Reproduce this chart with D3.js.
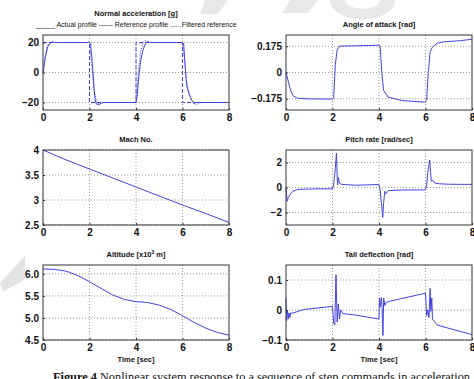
<!DOCTYPE html>
<meta charset="utf-8">
<style>
body { margin: 0; background: #fff; }
.tick text { font-family: "Liberation Sans", Arial, sans-serif; font-weight: bold; font-size: 10px; fill: #111; }
.ttl { font-family: "Liberation Sans", Arial, sans-serif; font-weight: bold; font-size: 7.5px; fill: #111; }
.grid line { stroke: #999; stroke-dasharray: 1,2; }
.frame { fill: none; stroke: #333; stroke-width: 1; }
.line { fill: none; stroke: #4343e0; stroke-width: 1; }
</style>
<body>
<script src="https://d3js.org/d3.v7.min.js"></script>
<script>

// ---- data ----
var xTicks = [0, 2, 4, 6, 8];

// normal acceleration [g]
var accActualT = [0, 0.1, 0.2, 0.3, 0.4, 0.5, 2.0, 2.05, 2.1, 2.15, 2.2, 2.25, 2.3, 2.4, 2.5, 2.6, 4.0, 4.05, 4.1, 4.2, 4.3, 4.4, 4.5, 4.6, 6.0, 6.05, 6.1, 6.15, 6.2, 6.3, 6.4, 6.5, 6.6, 8];
var accActual  = [0, 10, 17, 19.5, 20.5, 20, 20, 19, 10, 0, -12, -19, -21, -21.5, -20.5, -20, -20, -16, -6, 8, 15, 19, 20.5, 20, 20, 19, 8, -4, -10, -15, -18.5, -20.5, -20, -20];
var accRefT = [0, 2, 2, 4, 4, 6, 6, 8];
var accRef  = [20, 20, -20, -20, 20, 20, -20, -20];
var accFiltT = [0, 0.1, 0.2, 0.3, 0.4, 2.0, 2.1, 2.2, 2.3, 2.4, 2.5, 4.0, 4.1, 4.2, 4.3, 4.4, 4.6, 6.0, 6.1, 6.2, 6.3, 6.4, 6.5, 6.6, 6.8, 8];
var accFilt  = [0, 12, 18, 20, 20, 20, 5, -12, -19, -21, -20, -20, 0, 14, 20, 21.5, 20, 20, 6, -8, -15, -19, -21, -21.5, -20, -20];

// angle of attack [rad]
var aoaT = [0, 0.1, 0.2, 0.3, 0.5, 1, 2, 2.05, 2.12, 2.2, 2.3, 3, 4, 4.05, 4.12, 4.2, 4.4, 5, 6, 6.05, 6.12, 6.2, 6.3, 6.5, 6.8, 7.5, 8];
var aoa  = [0, -0.06, -0.12, -0.155, -0.172, -0.176, -0.177, -0.17, 0.05, 0.15, 0.176, 0.178, 0.182, 0.175, 0, -0.12, -0.165, -0.187, -0.198, -0.18, 0, 0.14, 0.17, 0.195, 0.205, 0.212, 0.222];

// Mach number
var machT = [0, 1, 2, 3, 4, 5, 6, 7, 8];
var mach  = [4.0, 3.8, 3.62, 3.44, 3.26, 3.08, 2.9, 2.73, 2.55];

// pitch rate [rad/sec]
var qT = [0, 0.05, 0.1, 0.2, 0.3, 0.5, 1, 2, 2.05, 2.12, 2.17, 2.2, 2.22, 2.25, 2.3, 2.4, 3, 4, 4.05, 4.1, 4.16, 4.2, 4.25, 4.3, 4.4, 5, 6, 6.05, 6.1, 6.18, 6.22, 6.25, 6.3, 6.4, 6.6, 7, 8];
var q  = [0, -1.1, -0.8, -0.5, -0.3, -0.15, -0.12, -0.1, 0.2, 1.5, 2.75, 1.0, 0.2, 0.8, 0.35, 0.25, 0.18, 0.24, -0.2, -1.2, -2.4, -1.2, -0.3, -0.5, -0.25, -0.2, -0.19, 0.2, 1.2, 2.2, 1.2, 0.5, 0.6, 0.35, 0.3, 0.26, 0.25];

// altitude [x10^3 m]
var altT = [0, 0.5, 1, 1.5, 2, 2.5, 3, 3.5, 4, 4.5, 5, 5.5, 6, 6.5, 7, 7.5, 8];
var alt  = [6.11, 6.1, 6.06, 5.96, 5.82, 5.67, 5.52, 5.42, 5.37, 5.35, 5.29, 5.19, 5.05, 4.9, 4.77, 4.67, 4.61];

// tail deflection [rad]
var tailT = [0, 0.03, 0.06, 0.1, 0.13, 0.17, 0.2, 0.3, 0.5, 0.8, 2, 2.05, 2.1, 2.15, 2.2, 2.25, 2.3, 2.35, 2.45, 3, 4, 4.02, 4.06, 4.1, 4.13, 4.17, 4.2, 4.25, 4.3, 4.5, 6, 6.05, 6.1, 6.15, 6.2, 6.23, 6.27, 6.3, 6.5, 7, 8];
var tail  = [0.04, -0.035, 0.0, -0.03, -0.01, -0.025, -0.01, -0.01, -0.005, 0.002, 0.012, -0.045, -0.05, 0.117, -0.04, 0.02, -0.03, 0.0, -0.012, -0.017, -0.03, 0.04, 0.01, 0.042, 0.012, -0.085, 0.04, 0.015, 0.025, 0.03, 0.056, -0.02, 0.0, -0.025, 0.072, -0.005, 0.04, -0.03, -0.05, -0.061, -0.082];

// ---- layout ----
var svg = d3.select("body").append("svg").attr("width", 474).attr("height", 379);

// faint watermark
svg.append("path").attr("d", "M205,0 L228,0 L218,14 L200,14 Z").attr("fill", "#e8e8e8");
svg.append("path").attr("d", "M290,0 L318,0 L308,13 L282,13 Z").attr("fill", "#e8e8e8");
svg.append("path").attr("d", "M330,0 A30,18 0 0 0 395,0 L380,0 A16,8 0 0 1 345,0 Z").attr("fill", "#e8e8e8");
svg.append("path").attr("d", "M25,256 L0,283 L3,292 L25,279 Z").attr("fill", "#e3e3e3");

var colL = 43, colR = 286, pw = 186, ph = 75;
var rows = [35, 150, 265];

function panel(x0, y0, ydom, yticks, yfmt, title, series) {
  var x = d3.scaleLinear().domain([0, 8]).range([0, pw]);
  var y = d3.scaleLinear().domain(ydom).range([ph, 0]);
  var g = svg.append("g").attr("transform", "translate(" + x0 + "," + y0 + ")");

  // dotted grid
  g.append("g").attr("class", "grid")
    .selectAll("line").data(xTicks.slice(1, -1)).enter().append("line")
      .attr("x1", d => x(d)).attr("x2", d => x(d)).attr("y1", 0).attr("y2", ph);
  g.append("g").attr("class", "grid")
    .selectAll("line").data(yticks).enter().append("line")
      .attr("x1", 0).attr("x2", pw).attr("y1", d => y(d)).attr("y2", d => y(d));

  // series
  series.forEach(function(s) {
    var pts = s.t.map((t, i) => [t, s.v[i]]);
    g.append("path").datum(pts).attr("class", "line")
      .attr("stroke-dasharray", s.dash || null)
      .attr("d", d3.line().x(d => x(d[0])).y(d => y(d[1])));
  });

  // axes
  var xa = g.append("g").attr("transform", "translate(0," + ph + ")")
    .call(d3.axisBottom(x).tickValues(xTicks).tickSize(-2).tickPadding(5).tickFormat(d3.format("d")));
  var ya = g.append("g")
    .call(d3.axisLeft(y).tickValues(yticks).tickSize(-2).tickPadding(4).tickFormat(yfmt));
  [xa, ya].forEach(a => { a.select(".domain").remove(); a.selectAll(".tick line").attr("stroke", "#333"); });
  xa.selectAll("text").attr("dy", "0.55em");

  g.append("rect").attr("class", "frame").attr("width", pw).attr("height", ph);

  g.append("text").attr("class", "ttl").attr("x", pw / 2).attr("y", -8)
    .attr("text-anchor", "middle").text(title);
  return g;
}

var fmt = d3.format("d");
var g1 = panel(colL, rows[0], [-25, 25], [-20, 0, 20], fmt, "Normal acceleration [g]", [
  { t: accRefT, v: accRef, dash: "4,2" },
  { t: accFiltT, v: accFilt, dash: "1,1.5" },
  { t: accActualT, v: accActual }
]);
g1.select(".ttl").attr("y", -19);
g1.append("text").attr("class", "ttl").attr("x", pw / 2).attr("y", -8).attr("text-anchor", "middle")
  .style("font-weight", "normal").style("font-size", "7px")
  .text("_____ Actual profile ------ Reference profile ......Filtered reference");

panel(colR, rows[0], [-0.25, 0.25], [-0.175, 0, 0.175], d => d === 0 ? "0" : d3.format(".3f")(d), "Angle of attack [rad]", [
  { t: aoaT, v: aoa }
]);
panel(colL, rows[1], [2.5, 4], [2.5, 3, 3.5, 4], d => String(d), "Mach No.", [
  { t: machT, v: mach }
]);
panel(colR, rows[1], [-3, 3], [-2, 0, 2], fmt, "Pitch rate [rad/sec]", [
  { t: qT, v: q }
]);
var g5 = panel(colL, rows[2], [4.5, 6.2], [4.5, 5, 5.5, 6], d3.format(".1f"), "", [
  { t: altT, v: alt }
]);
var at = g5.select(".ttl");
at.append("tspan").text("Altitude [x10");
at.append("tspan").attr("dy", -3).style("font-size", "5px").text("3");
at.append("tspan").attr("dy", 3).text(" m]");
panel(colR, rows[2], [-0.1, 0.15], [-0.1, 0, 0.1], d => d === 0 ? "0" : d3.format(".1f")(d), "Tail deflection [rad]", [
  { t: tailT, v: tail }
]);

// x labels
[colL, colR].forEach(function(cx) {
  svg.append("text").attr("class", "ttl").attr("x", cx + pw / 2).attr("y", 362)
    .attr("text-anchor", "middle").text("Time [sec]");
});

// caption (partly cut by the bottom edge, as in the original)
var cap = svg.append("text").attr("x", 53).attr("y", 381)
  .attr("textLength", 417).attr("lengthAdjust", "spacingAndGlyphs")
  .style("font-family", "'Liberation Serif', 'Times New Roman', serif").style("font-size", "12.5px").attr("fill", "#111");
cap.append("tspan").style("font-weight", "bold").text("Figure 4");
cap.append("tspan").text(" Nonlinear system response to a sequence of step commands in acceleration");

</script>
</body>
